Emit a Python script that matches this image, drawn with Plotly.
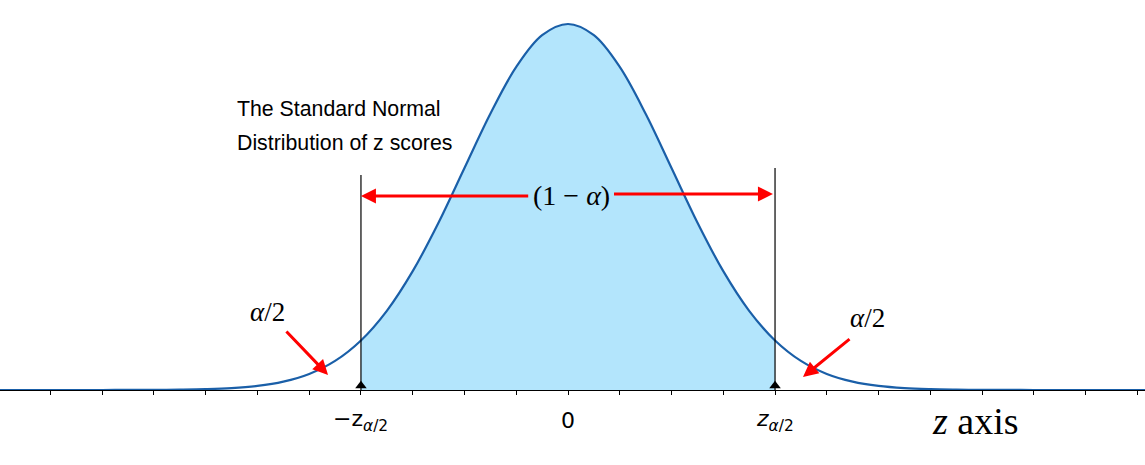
import plotly.graph_objects as go

# ---- data ----
z_curve = [-5.75, -5.5, -5.25, -5.0, -4.75, -4.5, -4.25, -4.0, -3.75, -3.5, -3.25, -3.0,
           -2.75, -2.5, -2.25, -2.0, -1.75, -1.5, -1.25, -1.0, -0.75, -0.5, -0.25, 0.0,
           0.25, 0.5, 0.75, 1.0, 1.25, 1.5, 1.75, 2.0, 2.25, 2.5, 2.75, 3.0, 3.25, 3.5,
           3.75, 4.0, 4.25, 4.5, 4.75, 5.0, 5.25, 5.5, 5.75]
density = [0.0, 0.0, 0.0, 0.0, 0.0, 0.0, 0.0001, 0.0001, 0.0004, 0.0009, 0.0020, 0.0044,
           0.0091, 0.0175, 0.0317, 0.0540, 0.0863, 0.1295, 0.1826, 0.2420, 0.3011, 0.3521, 0.3867, 0.3989,
           0.3867, 0.3521, 0.3011, 0.2420, 0.1826, 0.1295, 0.0863, 0.0540, 0.0317, 0.0175, 0.0091, 0.0044, 0.0020, 0.0009,
           0.0004, 0.0001, 0.0001, 0.0, 0.0, 0.0, 0.0, 0.0, 0.0]

z_shaded = [-2.0, -1.75, -1.5, -1.25, -1.0, -0.75, -0.5, -0.25, 0.0,
            0.25, 0.5, 0.75, 1.0, 1.25, 1.5, 1.75, 2.0]
density_shaded = [0.0540, 0.0863, 0.1295, 0.1826, 0.2420, 0.3011, 0.3521, 0.3867, 0.3989,
                  0.3867, 0.3521, 0.3011, 0.2420, 0.1826, 0.1295, 0.0863, 0.0540]

crit_z = [-2.0, 2.0]
crit_line_top = [0.2344, 0.2420]

tick_vals = [-5.0, -4.5, -4.0, -3.5, -3.0, -2.5, -2.0, -1.5, -1.0, -0.5, 0.0,
             0.5, 1.0, 1.5, 2.0, 2.5, 3.0, 3.5, 4.0, 4.5, 5.0, 5.5]
tick_label_text = ["−z<sub><i>α</i>/2</sub>", "0", "<i>z</i><sub><i>α</i>/2</sub>"]
tick_label_z = [-2.0, 0.0, 2.0]

CURVE = "#1a5fa8"
FILL = "#b3e5fc"
RED = "#ff0000"

fig = go.Figure()

fig.add_trace(go.Scatter(x=z_shaded, y=density_shaded, mode="lines", line=dict(width=0, shape="spline"),
                         fill="tozeroy", fillcolor=FILL, hoverinfo="skip"))
fig.add_trace(go.Scatter(x=z_curve, y=density, mode="lines",
                         line=dict(color=CURVE, width=2.2, shape="spline"), hoverinfo="skip"))
for cz, top in zip(crit_z, crit_line_top):
    fig.add_trace(go.Scatter(x=[cz, cz], y=[0, top], mode="lines",
                             line=dict(color="black", width=1.2), hoverinfo="skip"))
fig.add_trace(go.Scatter(x=crit_z, y=[0.0045, 0.0045], mode="markers",
                         marker=dict(symbol="triangle-up", size=10, color="black"), cliponaxis=False,
                         hoverinfo="skip"))

ann = []
# (1 - alpha) double arrow
ann.append(dict(x=-2.0, y=0.2115, ax=-0.37, ay=0.2115, xref="x", yref="y", axref="x", ayref="y",
                text="", showarrow=True, arrowhead=2, arrowsize=1, arrowwidth=3, arrowcolor=RED))
ann.append(dict(x=1.98, y=0.2136, ax=0.43, ay=0.2136, xref="x", yref="y", axref="x", ayref="y",
                text="", showarrow=True, arrowhead=2, arrowsize=1, arrowwidth=3, arrowcolor=RED))
ann.append(dict(x=0.03, y=0.2125, xref="x", yref="y", text="(1 − <i>α</i>)", showarrow=False,
                font=dict(family="Liberation Serif", size=28, color="black")))
# alpha/2 arrows
ann.append(dict(x=-2.318, y=0.0164, ax=-2.734, ay=0.0654, xref="x", yref="y", axref="x", ayref="y",
                text="", showarrow=True, arrowhead=2, arrowsize=1, arrowwidth=3, arrowcolor=RED))
ann.append(dict(x=2.270, y=0.0142, ax=2.734, ay=0.0567, xref="x", yref="y", axref="x", ayref="y",
                text="", showarrow=True, arrowhead=2, arrowsize=1, arrowwidth=3, arrowcolor=RED))
ann.append(dict(x=-2.9, y=0.0850, xref="x", yref="y", text="<i>α</i>/2", showarrow=False,
                font=dict(family="Liberation Serif", size=27, color="black")))
ann.append(dict(x=2.89, y=0.0785, xref="x", yref="y", text="<i>α</i>/2", showarrow=False,
                font=dict(family="Liberation Serif", size=27, color="black")))
# title text
ann.append(dict(x=235 / 1145, y=(392 - 109) / 392, xref="paper", yref="paper", xanchor="left", yanchor="middle",
                text="The Standard Normal", showarrow=False,
                font=dict(family="Liberation Sans", size=21.3, color="black")))
ann.append(dict(x=235 / 1145, y=(392 - 143) / 392, xref="paper", yref="paper", xanchor="left", yanchor="middle",
                text="Distribution of z scores", showarrow=False,
                font=dict(family="Liberation Sans", size=21.3, color="black")))
# tick labels
for tz, tt in zip(tick_label_z, tick_label_text):
    ann.append(dict(x=tz, y=-28 / 392, xref="x", yref="paper", text=tt, showarrow=False,
                    xanchor="center", yanchor="middle",
                    font=dict(family="DejaVu Sans", size=22, color="black")))
# axis title
ann.append(dict(x=975 / 1145, y=-29 / 392, xref="paper", yref="paper", text="<i>z</i> axis", showarrow=False,
                xanchor="center", yanchor="middle",
                font=dict(family="Liberation Serif", size=38, color="black")))

fig.update_layout(
    width=1145, height=465,
    margin=dict(l=0, r=0, t=0, b=73),
    paper_bgcolor="white", plot_bgcolor="white",
    showlegend=False,
    annotations=ann,
    xaxis=dict(range=[-5.487, 5.574], showgrid=False, zeroline=False, showline=True, linecolor="black",
               linewidth=1, ticks="outside", ticklen=4, tickwidth=1, tickcolor="black",
               tickvals=tick_vals, showticklabels=False, anchor="free", position=2 / 392),
    yaxis=dict(range=[-0.00218, 0.42507], visible=False, showgrid=False, zeroline=False),
)

fig.write_html("out.html", config={"displayModeBar": False},
               post_script="document.body.style.margin='0';")
